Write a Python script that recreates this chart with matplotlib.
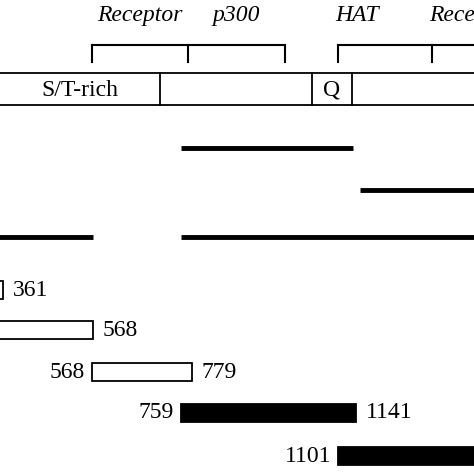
import matplotlib
matplotlib.use("Agg")
import matplotlib.pyplot as plt
from matplotlib.patches import Rectangle

plt.rcParams['font.family'] = ['Liberation Serif', 'DejaVu Serif']

domain_edges = [-5, 160, 312, 352, 480]
domain_labels = ["S/T-rich", "", "Q", ""]
brackets = [(92, 285, [188]), (338, 480, [432])]
bracket_titles = [("Receptor", 140), ("p300", 236), ("HAT", 357), ("Rece", 452)]
lines = [(148, [(181, 353)]), (190, [(360, 480)]), (237, [(-5, 93), (181, 480)])]
frag_y = [290, 330, 372, 413, 456]
frag_x0 = [-5, -5, 92, 181, 338]
frag_x1 = [3, 93, 192, 356, 480]
frag_left = ["", "", "568", "759", "1101"]
frag_right = ["361", "568", "779", "1141", ""]
frag_fill = [False, False, False, True, True]

fig = plt.figure(figsize=(4.74, 4.74), dpi=100)
ax = fig.add_axes([0, 0, 1, 1])
ax.set_xlim(0, 474); ax.set_ylim(474, 0); ax.axis('off')

FS = 17
for t, x in bracket_titles:
    ax.text(x, 15, t, style='italic', fontsize=FS, ha='center', va='center')
for x0, x1, mids in brackets:
    ax.plot([x0, x1], [45, 45], color='k', lw=1.5)
    for x in [x0, x1] + mids:
        ax.plot([x, x], [45, 62], color='k', lw=1.5)

ax.add_patch(Rectangle((-5, 73), 490, 32, fill=False, lw=1.3, ec='k'))
for i in range(len(domain_labels)):
    a, b = domain_edges[i], domain_edges[i + 1]
    if i > 0:
        ax.plot([a, a], [73, 105], color='k', lw=1.3)
    if domain_labels[i]:
        ax.text((max(a, 0) + b) / 2, 90, domain_labels[i], fontsize=FS, ha='center', va='center')

for y, segs in lines:
    for a, b in segs:
        ax.plot([a, b], [y, y], color='k', lw=3.5, solid_capstyle='butt')

for y, a, b, l, r, f in zip(frag_y, frag_x0, frag_x1, frag_left, frag_right, frag_fill):
    ax.add_patch(Rectangle((a, y - 9), b - a, 18, fc='k' if f else 'white', ec='k', lw=1.3))
    if l:
        ax.text(a - 7, y, l, fontsize=FS, ha='right', va='center')
    if r:
        ax.text(b + 10, y, r, fontsize=FS, ha='left', va='center')

fig.savefig("out.png", dpi=100)
